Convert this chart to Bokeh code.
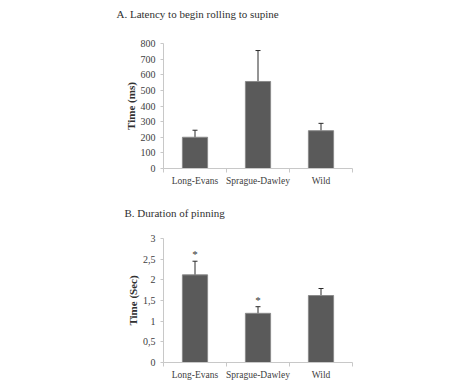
from bokeh.plotting import figure
from bokeh.models import ColumnDataSource, FixedTicker, Whisker, TeeHead, Title
from bokeh.layouts import column
from bokeh.embed import file_html
from bokeh.resources import INLINE
from bokeh.core.properties import value

categories = ["Long-Evans", "Sprague-Dawley", "Wild"]

latency_title = "A. Latency to begin rolling to supine"
latency_ylabel = "Time (ms)"
latency_mean = [200, 557, 242]
latency_err = [45, 198, 47]
latency_ticks = [0, 100, 200, 300, 400, 500, 600, 700, 800]
latency_tick_labels = ["0", "100", "200", "300", "400", "500", "600", "700", "800"]

pinning_title = "B. Duration of pinning"
pinning_ylabel = "Time (Sec)"
pinning_mean = [2.12, 1.19, 1.62]
pinning_err = [0.33, 0.16, 0.17]
pinning_marks = ["*", "*", ""]
pinning_ticks = [0, 0.5, 1, 1.5, 2, 2.5, 3]
pinning_tick_labels = ["0", "0,5", "1", "1,5", "2", "2,5", "3"]

FONT = "Liberation Serif"
FONT_VALUE = value(FONT)
BAR = "#5a5a5a"
AXIS = "#c8c8c8"
TEXT = "#404040"


def make_panel(title, ylabel, means, errs, ticks, tick_labels, marks,
               height, bl, br, bt, bb, title_offset, gap):
    n = len(categories)
    xs = [i + 0.5 for i in range(n)]
    src = ColumnDataSource(dict(
        x=xs, top=means,
        upper=[m + e for m, e in zip(means, errs)],
        lower=[m - e for m, e in zip(means, errs)],
        mark=marks if marks else [""] * n,
    ))
    p = figure(width=466, height=height, x_range=(0, n),
               y_range=(ticks[0], ticks[-1]),
               output_backend="svg", toolbar_location=None,
               min_border_left=bl, min_border_right=br,
               min_border_top=bt, min_border_bottom=bb)
    p.outline_line_color = None
    p.grid.grid_line_color = None
    p.background_fill_color = "white"
    p.border_fill_color = "white"

    p.vbar(x="x", top="top", width=0.4, bottom=0, source=src,
           fill_color=BAR, line_color="#8a8a8a", line_width=1)

    w = Whisker(base="x", upper="upper", lower="lower", source=src,
                line_color="#2a2a2a", line_width=1,
                upper_head=TeeHead(size=5, line_color="#2a2a2a", line_width=1),
                lower_head=TeeHead(size=5, line_color="#2a2a2a", line_width=1))
    p.add_layout(w)

    if marks:
        p.text(x="x", y="upper", text="mark", source=src,
               text_font=FONT_VALUE, text_font_size="11px",
               text_color="#333333", text_align="center",
               text_baseline="bottom", y_offset=-1)

    # x axis
    xa = p.xaxis[0]
    xa.ticker = FixedTicker(ticks=xs, minor_ticks=list(range(n + 1)))
    xa.major_label_overrides = {x: c for x, c in zip(xs, categories)}
    xa.major_tick_out = 0
    xa.major_tick_in = 0
    xa.minor_tick_out = 4
    xa.minor_tick_in = 0
    xa.minor_tick_line_color = AXIS
    xa.axis_line_color = AXIS
    xa.major_label_text_font = FONT
    xa.major_label_text_font_size = "9.5px"
    xa.major_label_text_color = TEXT
    xa.major_label_standoff = 3

    # y axis
    ya = p.yaxis[0]
    ya.ticker = FixedTicker(ticks=ticks, minor_ticks=[])
    ya.major_label_overrides = {t: l for t, l in zip(ticks, tick_labels)}
    ya.major_tick_out = 3
    ya.major_tick_in = 0
    ya.major_tick_line_color = AXIS
    ya.axis_line_color = AXIS
    ya.major_label_text_font = FONT
    ya.major_label_text_font_size = "10px"
    ya.major_label_text_color = TEXT
    ya.major_label_standoff = 5
    ya.axis_label = ylabel
    ya.axis_label_text_font = FONT
    ya.axis_label_text_font_style = "bold"
    ya.axis_label_text_font_size = "11px"
    ya.axis_label_text_color = "#303030"
    ya.axis_label_standoff = 1

    # spacer (closest to the frame) then the visible title above it
    spacer = Title(text=" ", text_font_size="1px", standoff=gap)
    p.add_layout(spacer, "above")
    t = Title(text=title, text_font=FONT, text_font_style="normal",
              text_font_size="11px", text_color="#303030",
              align="left", offset=title_offset, standoff=0)
    p.add_layout(t, "above")
    return p


pa = make_panel(latency_title, latency_ylabel, latency_mean, latency_err,
                latency_ticks, latency_tick_labels, None,
                height=193, bl=163, br=105, bt=43, bb=25,
                title_offset=-47, gap=21)
pb = make_panel(pinning_title, pinning_ylabel, pinning_mean, pinning_err,
                pinning_ticks, pinning_tick_labels, pinning_marks,
                height=193, bl=155, br=114, bt=45, bb=24,
                title_offset=-39, gap=17)

layout = column(pa, pb, spacing=0)
open("out.html", "w").write(file_html(layout, INLINE))
